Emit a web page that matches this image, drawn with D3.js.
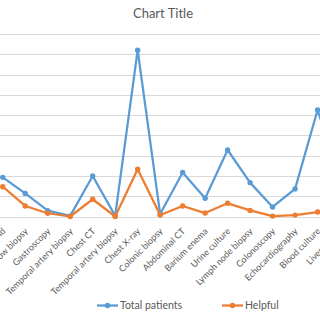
<!DOCTYPE html>
<html>
<head>
<meta charset="utf-8">
<script src="https://cdn.jsdelivr.net/npm/d3@7"></script>
<style>
  html, body { margin: 0; padding: 0; background: #fff; overflow: hidden; }
  svg { display: block; font-family: Lato, "Open Sans", sans-serif; }
</style>
</head>
<body>
<div id="chart"></div>
<script>
// Categories (the chart is cropped, first and last labels are cut off).
const categories = [
    'Abdominal ultrasound', 'Bone marrow biopsy', 'Gastroscopy', 'Temporal artery biopsy',
    'Chest CT', 'Temporal artery biopsy ', 'Chest X-ray', 'Colonic biopsy',
    'Abdominal CT', 'Barium enema', 'Urine culture', 'Lymph node biopsy',
    'Colonoscopy', 'Echocardiography', 'Blood culture', 'Liver biopsy'
];
const totalPatients = [19.3, 11.4, 2.9, 0.3, 20, 0.3, 82, 1.2, 21.7, 9, 32.8, 16.7, 4.7, 13.6, 52.5, 20];
const helpful = [14.7, 5.2, 1.6, 0, 8.5, 0, 23.3, 0.7, 5.2, 1.7, 6.5, 3, 0.2, 0.7, 2.2, 2];
const yTicks = [0, 10, 20, 30, 40, 50, 60, 70, 80, 90];

const width = 320, height = 320;
const plot = {left: -8.5, right: 351.3, top: 34, bottom: 216.5};

const svg = d3.select('#chart')
    .append('svg')
        .attr('width', width)
        .attr('height', height);

const x = d3.scaleBand()
    .domain(categories)
    .range([plot.left, plot.right])
    .padding(0);
const y = d3.scaleLinear()
    .domain([0, 90])
    .range([plot.bottom, plot.top]);
const cx = d => x(d) + x.bandwidth() / 2;

// Title.
svg.append('text')
    .attr('x', 163)
    .attr('y', 18)
    .attr('text-anchor', 'middle')
    .style('font-size', '13px')
    .style('fill', '#595959')
    .text('Chart Title');

// Gridlines.
svg.append('g')
    .selectAll('line')
    .data(yTicks)
    .enter()
    .append('line')
        .attr('x1', plot.left)
        .attr('x2', plot.right)
        .attr('y1', d => Math.round(y(d)) + 0.5)
        .attr('y2', d => Math.round(y(d)) + 0.5)
        .attr('stroke', '#d9d9d9')
        .attr('stroke-width', 1);

// X axis labels.
const xGroup = svg.append('g')
    .attr('transform', `translate(0, ${plot.bottom})`)
    .call(d3.axisBottom(x).tickSize(0).tickSizeOuter(0));
xGroup.select('.domain').remove();
xGroup.selectAll('text')
    .attr('x', 0)
    .attr('y', 0)
    .attr('dy', '0.35em')
    .attr('transform', 'translate(1,13) rotate(-45)')
    .style('text-anchor', 'end')
    .style('font-family', 'Lato, "Open Sans", sans-serif')
    .style('font-size', '9px')
    .style('fill', '#595959');

// Lines and markers.
const series = [
    {name: 'Total patients', values: totalPatients, color: '#5B9BD5'},
    {name: 'Helpful', values: helpful, color: '#ED7D31'}
];
const line = d3.line()
    .x((d, i) => cx(categories[i]))
    .y(d => y(d));

series.forEach(s => {
    svg.append('path')
        .datum(s.values)
        .attr('d', line)
        .attr('fill', 'none')
        .attr('stroke', s.color)
        .attr('stroke-width', 2.25)
        .attr('stroke-linejoin', 'round');
    svg.append('g')
        .selectAll('circle')
        .data(s.values)
        .enter()
        .append('circle')
            .attr('cx', (d, i) => cx(categories[i]))
            .attr('cy', d => y(d))
            .attr('r', 2.7)
            .attr('fill', s.color);
});

// Legend.
const legendPos = [97, 222];
const legend = svg.append('g')
    .selectAll('g')
    .data(series)
    .enter()
    .append('g')
        .attr('transform', (d, i) => `translate(${legendPos[i]}, 305.5)`);
legend.append('line')
    .attr('x1', 0).attr('x2', 21)
    .attr('stroke', d => d.color)
    .attr('stroke-width', 2.25);
legend.append('circle')
    .attr('cx', 10.5)
    .attr('r', 2.7)
    .attr('fill', d => d.color);
legend.append('text')
    .attr('x', 23)
    .attr('dy', '0.35em')
    .style('font-size', '10.5px')
    .style('fill', '#595959')
    .text(d => d.name);
</script>
</body>
</html>
